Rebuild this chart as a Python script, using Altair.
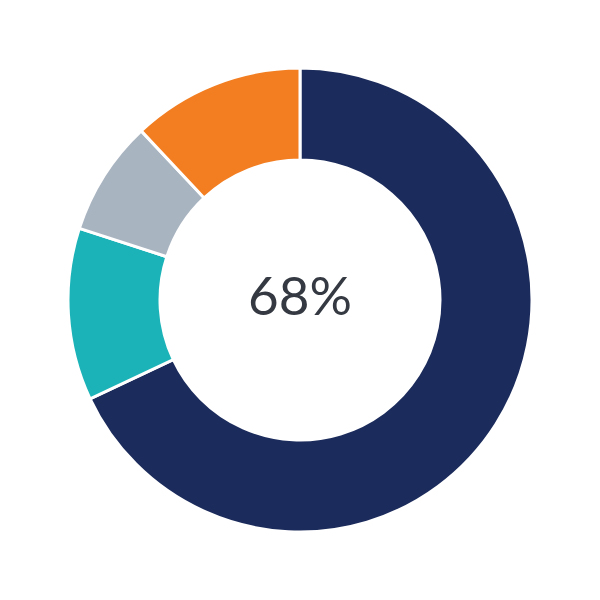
import altair as alt
import pandas as pd

categories = ["A", "B", "C", "D"]
values = [68, 12, 8, 12]
colors = ["#1b2b5b", "#1bb3b7", "#a9b4c1", "#f27e21"]
center_label = "68%"

df = pd.DataFrame({"cat": categories, "value": values, "order": list(range(len(values)))})

arc = alt.Chart(df).mark_arc(innerRadius=140, outerRadius=232, stroke="white", strokeWidth=3).encode(
    theta=alt.Theta("value:Q", stack=True),
    color=alt.Color("cat:N", scale=alt.Scale(domain=categories, range=colors), legend=None),
    order=alt.Order("order:Q"),
)

text = alt.Chart(pd.DataFrame({"t": [center_label]})).mark_text(
    font="Lato", fontSize=53, fontWeight="normal", color="#353a42", baseline="middle", align="center"
).encode(text="t:N", x=alt.value(292), y=alt.value(291))

chart = alt.layer(arc, text).properties(
    width=584, height=584,
    autosize=alt.AutoSizeParams(type="fit", contains="padding"),
    padding=0,
).configure_view(stroke=None)

chart.save("out.html", embed_options={"renderer": "svg", "actions": False})
